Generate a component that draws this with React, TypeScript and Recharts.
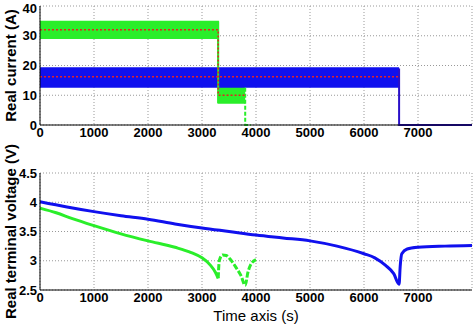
import {
  ComposedChart,
  Area,
  Line,
  XAxis,
  YAxis,
  CartesianGrid,
} from "recharts";

// time ticks shared by both plots
const timeTicks: number[] = [0, 1000, 2000, 3000, 4000, 5000, 6000, 7000];

// --- top plot: real current (A) ---
const currentTicks: number[] = [0, 10, 20, 30, 40];

const greenBandT: number[] = [0, 3300, 3300, 3800];
const greenBandLo: number[] = [29.2, 29.2, 7.4, 7.4];
const greenBandHi: number[] = [34.8, 34.8, 13, 13];
const greenMeanT: number[] = [0, 3300, 3300, 3800];
const greenMeanV: number[] = [32, 32, 10, 10];
const greenStepT: number[] = [3300, 3300];
const greenStepV: number[] = [34.8, 7.4];
const greenTailT: number[] = [3800, 3800, 3900];
const greenTailV: number[] = [12.5, 0, 0];

const blueBandT: number[] = [0, 6650];
const blueBandLo: number[] = [12.8, 12.8];
const blueBandHi: number[] = [19.2, 19.2];
const blueMeanT: number[] = [0, 6650];
const blueMeanV: number[] = [16.2, 16.2];
const blueTailT: number[] = [6650, 6650, 8000];
const blueTailV: number[] = [19, 0, 0];

// --- bottom plot: real terminal voltage (V) ---
const voltTicks: number[] = [2.5, 3, 3.5, 4, 4.5];

const blueVoltT: number[] = [0, 500, 1000, 1500, 2000, 2500, 3000, 3500, 4000, 4500, 5000, 5500, 6000, 6200, 6400, 6550, 6650, 6670, 6700, 6800, 7000, 7500, 8000];
const blueVoltV: number[] = [4.01, 3.92, 3.84, 3.77, 3.71, 3.63, 3.56, 3.5, 3.44, 3.39, 3.34, 3.25, 3.12, 3.05, 2.92, 2.78, 2.6, 2.9, 3.12, 3.2, 3.23, 3.25, 3.26];

const greenVoltT: number[] = [0, 300, 600, 1000, 1500, 2000, 2500, 2800, 3000, 3150, 3250, 3300];
const greenVoltV: number[] = [3.9, 3.82, 3.72, 3.6, 3.46, 3.34, 3.23, 3.14, 3.05, 2.93, 2.8, 2.7];
const greenVolt2T: number[] = [3300, 3320, 3380, 3450, 3520, 3640, 3720, 3800, 3850, 3900, 4000];
const greenVolt2V: number[] = [2.7, 3.0, 3.1, 3.09, 3.03, 2.87, 2.75, 2.58, 2.8, 2.93, 3.02];

const GREEN = "#2aee2a";
const BLUE = "#1010ee";
const RED = "#e82020";

const pts = (t: number[], v: number[]) => t.map((x, i) => ({ t: x, v: v[i] }));
const band = (t: number[], lo: number[], hi: number[]) =>
  t.map((x, i) => ({ t: x, r: [lo[i], hi[i]] }));

const tickStyle = {
  fontFamily: "'Liberation Sans', Arial, sans-serif",
  fontSize: 13,
  fontWeight: "bold" as const,
  fill: "#000",
};

const titleStyle = {
  fontFamily: "'Liberation Sans', Arial, sans-serif",
  fontSize: 15,
  fontWeight: "bold" as const,
  fill: "#000",
  textAnchor: "middle" as const,
};

const Frame = () => [
  <XAxis key="xt" xAxisId="top" orientation="top" type="number" domain={[0, 8000]} tick={false} tickLine={false} height={0} axisLine={{ stroke: "#000" }} />,
  <YAxis key="yr" yAxisId="right" orientation="right" tick={false} tickLine={false} width={0} axisLine={{ stroke: "#000" }} />,
];

export default function App() {
  return (
    <div style={{ position: "absolute", left: 0, top: 0, width: 474, height: 325, background: "#fff" }}>
      <div style={{ position: "absolute", left: 0, top: 0 }}>
        <ComposedChart width={474} height={140} margin={{ top: 6, right: 2, left: 0, bottom: 0 }}>
          <CartesianGrid stroke="#999" strokeDasharray="1 2" />
          <XAxis
            dataKey="t"
            type="number"
            domain={[0, 8000]}
            ticks={timeTicks}
            height={15}
            tick={tickStyle}
            tickLine={false}
            tickSize={0}
            tickMargin={3}
            axisLine={{ stroke: "#000" }}
            allowDuplicatedCategory={false}
          />
          <YAxis
            type="number"
            domain={[0, 40]}
            ticks={currentTicks}
            width={40}
            tick={tickStyle}
            tickLine={false}
            tickSize={0}
            tickMargin={3}
            axisLine={{ stroke: "#000" }}
            label={{ value: "Real current (A)", angle: -90, position: "insideLeft", offset: 11, style: titleStyle }}
          />
          {Frame()}
          <Area data={band(greenBandT, greenBandLo, greenBandHi)} dataKey="r" type="linear" fill={GREEN} fillOpacity={1} stroke={GREEN} strokeWidth={1.5} isAnimationActive={false} />
          <Line data={pts(greenStepT, greenStepV)} dataKey="v" type="linear" stroke={GREEN} strokeWidth={2} dot={false} isAnimationActive={false} />
          <Line data={pts(greenTailT, greenTailV)} dataKey="v" type="linear" stroke={GREEN} strokeWidth={2} strokeDasharray="4 2" dot={false} isAnimationActive={false} />
          <Area data={band(blueBandT, blueBandLo, blueBandHi)} dataKey="r" type="linear" fill={BLUE} fillOpacity={1} stroke={BLUE} strokeWidth={1.5} isAnimationActive={false} />
          <Line data={pts(blueTailT, blueTailV)} dataKey="v" type="linear" stroke="#2a10c8" strokeWidth={2} dot={false} isAnimationActive={false} />
          <Line data={pts(greenMeanT, greenMeanV)} dataKey="v" type="linear" stroke={RED} strokeWidth={1.5} strokeDasharray="2 2" dot={false} isAnimationActive={false} />
          <Line data={pts(blueMeanT, blueMeanV)} dataKey="v" type="linear" stroke={RED} strokeWidth={1.5} strokeDasharray="2 2" dot={false} isAnimationActive={false} />
        </ComposedChart>
      </div>
      <div style={{ position: "absolute", left: 0, top: 140 }}>
        <ComposedChart width={474} height={185} margin={{ top: 33, right: 2, left: 0, bottom: 0 }}>
          <CartesianGrid stroke="#999" strokeDasharray="1 2" />
          <XAxis
            dataKey="t"
            type="number"
            domain={[0, 8000]}
            ticks={timeTicks}
            height={35}
            tick={tickStyle}
            tickLine={false}
            tickSize={0}
            tickMargin={3}
            axisLine={{ stroke: "#000" }}
            allowDuplicatedCategory={false}
            label={{
              value: "Time axis (s)",
              position: "insideBottom",
              offset: 4,
              style: { fontFamily: "'Liberation Sans', Arial, sans-serif", fontSize: 15, fill: "#000" },
            }}
          />
          <YAxis
            type="number"
            domain={[2.5, 4.5]}
            ticks={voltTicks}
            width={40}
            tick={tickStyle}
            tickLine={false}
            tickSize={0}
            tickMargin={3}
            axisLine={{ stroke: "#000" }}
            label={{ value: "Real terminal voltage (V)", angle: -90, position: "insideLeft", offset: 11, style: titleStyle }}
          />
          {Frame()}
          <Line data={pts(greenVoltT, greenVoltV)} dataKey="v" type="monotone" stroke={GREEN} strokeWidth={3} dot={false} isAnimationActive={false} />
          <Line data={pts(greenVolt2T, greenVolt2V)} dataKey="v" type="monotone" stroke={GREEN} strokeWidth={3} strokeDasharray="6 2" dot={false} isAnimationActive={false} />
          <Line data={pts(blueVoltT, blueVoltV)} dataKey="v" type="monotone" stroke={BLUE} strokeWidth={3} dot={false} isAnimationActive={false} />
        </ComposedChart>
      </div>
    </div>
  );
}
